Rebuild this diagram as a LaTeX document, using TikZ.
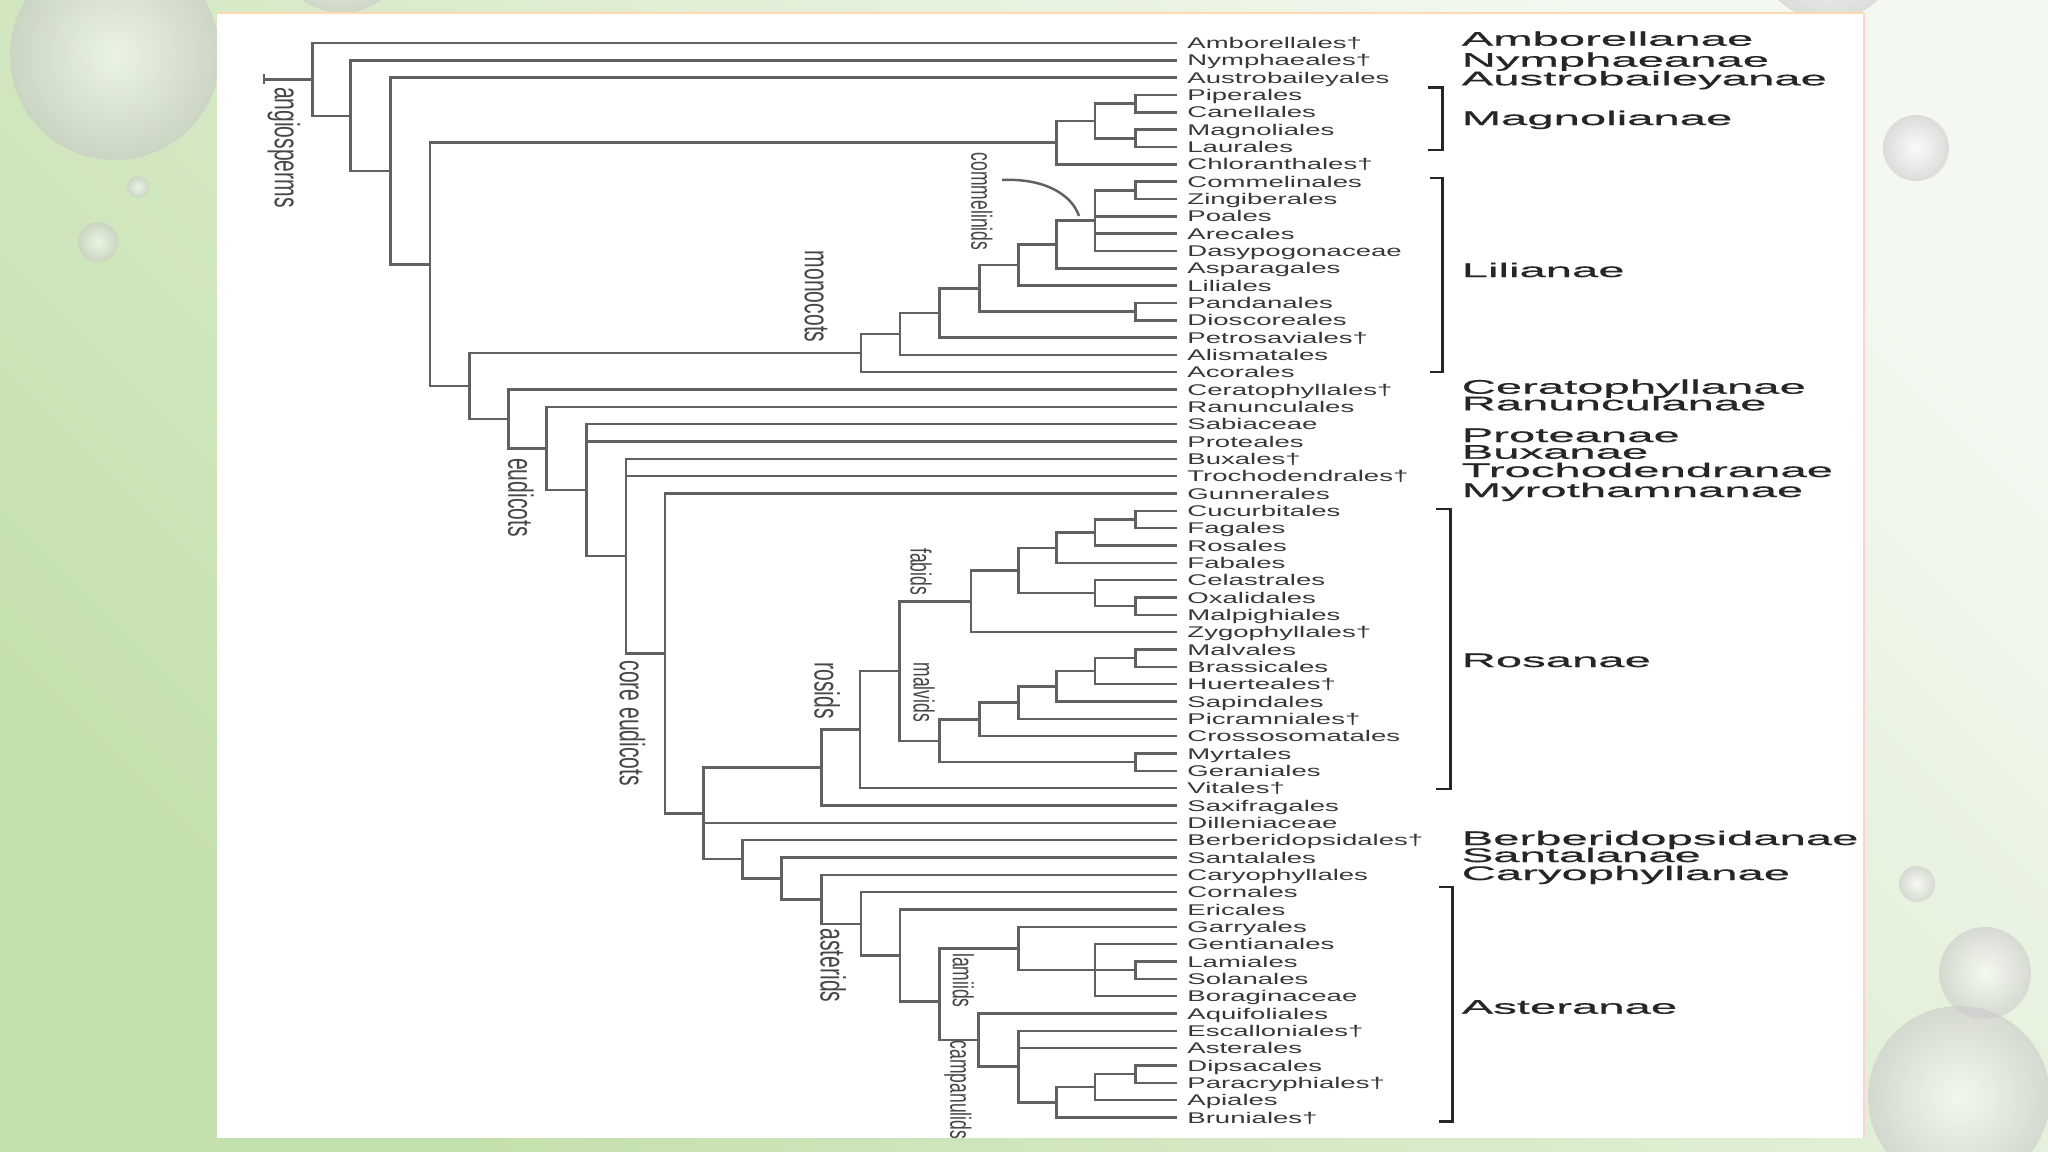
\documentclass[tikz,border=0pt]{standalone}
\usepackage{fontspec}
\setmainfont{Liberation Sans}
\newfontfamily\leaffont[FakeStretch=1.78]{Liberation Sans}
\newfontfamily\superfont[FakeStretch=2.4,FakeBold=0.6]{Liberation Sans}
\newfontfamily\cladefont[FakeStretch=0.6]{Liberation Sans}
\definecolor{bgtop}{RGB}{243,248,240}
\definecolor{bgbot}{RGB}{196,224,172}
\newcommand{\ry}[1]{43+17.33*(#1)}
\tikzset{
  br/.style       = {draw=black!62, line width=0.7pt},
  brk/.style      = {draw=black!85, line width=0.85pt},
  leaf/.style     = {anchor=west, inner xsep=1mm, inner ysep=0pt, text height=3.15pt,
                     text depth=0pt, font=\leaffont\fontsize{4.4}{5}\selectfont, text=black!78},
  superord/.style = {anchor=west, inner sep=0pt, text height=4pt, text depth=0pt,
                     font=\superfont\fontsize{5.6}{6}\selectfont, text=black!85},
  clade/.style    = {rotate=-90, inner sep=0pt, font=\cladefont\fontsize{10}{11}\selectfont,
                     text=black!72},
  subclade/.style = {clade, font=\cladefont\fontsize{8.3}{9}\selectfont},
  drop/.style     = {inner color=white, outer color=black!22, opacity=0.55},
}

\begin{document}
\begin{tikzpicture}[x=0.01cm, y=-0.01cm]
  \useasboundingbox (0,0) rectangle (2048,1152);
  \shade[top color=bgtop, bottom color=bgbot, shading angle=-45] (0,0) rectangle (2048,1152);

  \shade[drop] (115,55) circle (1.05cm);
  \shade[drop] (138,187) circle (0.11cm);
  \shade[drop] (98,242) circle (0.2cm);
  \shade[drop] (342,-52) circle (0.65cm);
  \shade[drop] (1828,-52) circle (0.72cm);
  \shade[drop] (1916,148) circle (0.33cm);
  \shade[drop] (1917,884) circle (0.18cm);
  \shade[drop] (1985,973) circle (0.46cm);
  \shade[drop] (1959,1097) circle (0.91cm);

  \fill[white] (217,13) rectangle (1864,1138);
  \draw[orange!30, line width=0.8pt] (217,13) -- (1864,13);
  \draw[red!18, line width=0.8pt] (1864,13) -- (1864,1138);

  \foreach \lab [count=\i from 0] in {Amborellales†, Nymphaeales†, Austrobaileyales,
      Piperales, Canellales, Magnoliales, Laurales, Chloranthales†, Commelinales,
      Zingiberales, Poales, Arecales, Dasypogonaceae, Asparagales, Liliales, Pandanales,
      Dioscoreales, Petrosaviales†, Alismatales, Acorales, Ceratophyllales†, Ranunculales,
      Sabiaceae, Proteales, Buxales†, Trochodendrales†, Gunnerales, Cucurbitales, Fagales,
      Rosales, Fabales, Celastrales, Oxalidales, Malpighiales, Zygophyllales†, Malvales,
      Brassicales, Huerteales†, Sapindales, Picramniales†, Crossosomatales, Myrtales,
      Geraniales, Vitales†, Saxifragales, Dilleniaceae, Berberidopsidales†, Santalales,
      Caryophyllales, Cornales, Ericales, Garryales, Gentianales, Lamiales, Solanales,
      Boraginaceae, Aquifoliales, Escalloniales†, Asterales, Dipsacales, Paracryphiales†,
      Apiales, Bruniales†}
    \node[leaf] (l\i) at (1176.7,{\ry{\i}}) {\lab};

  \coordinate (root)    at (312.3,{\ry{2.1}});
  \coordinate (n21)     at (350.7,{\ry{4.2}});
  \coordinate (n20)     at (390.7,{\ry{7.39}});
  \coordinate (n19)     at (430,{\ry{12.78}});
  \coordinate (mC)      at (1056.7,{\ry{5.75}});
  \coordinate (magn)    at (1095,{\ry{4.5}});
  \coordinate (pipcan)  at (1135.5,{\ry{3.5}});
  \coordinate (maglau)  at (1135.5,{\ry{5.5}});
  \coordinate (n18)     at (469.3,{\ry{19.8}});
  \coordinate (mono)    at (861,{\ry{17.9}});
  \coordinate (alis)    at (900,{\ry{16.79}});
  \coordinate (petr)    at (939.3,{\ry{15.58}});
  \coordinate (pand)    at (979.3,{\ry{14.16}});
  \coordinate (pandios) at (1135.5,{\ry{15.5}});
  \coordinate (lili)    at (1018.3,{\ry{12.81}});
  \coordinate (aspa)    at (1056.7,{\ry{11.625}});
  \coordinate (comm)    at (1095,{\ry{10.25}});
  \coordinate (comzin)  at (1135.5,{\ry{8.5}});
  \coordinate (n17)     at (508.3,{\ry{21.7}});
  \coordinate (eud)     at (546.7,{\ry{23.4}});
  \coordinate (n15)     at (586.7,{\ry{25.8}});
  \coordinate (n14)     at (626,{\ry{29.6}});
  \coordinate (core)    at (665,{\ry{35.23}});
  \coordinate (penta)   at (703.5,{\ry{44.46}});
  \coordinate (srosid)  at (821.7,{\ry{41.81}});
  \coordinate (rosids)  at (860,{\ry{39.62}});
  \coordinate (fabmal)  at (899.3,{\ry{36.24}});
  \coordinate (fabids)  at (971,{\ry{32.22}});
  \coordinate (fa4)     at (1018.3,{\ry{30.44}});
  \coordinate (fa3)     at (1056.7,{\ry{29.125}});
  \coordinate (fa2)     at (1095,{\ry{28.25}});
  \coordinate (fa1)     at (1135.5,{\ry{27.5}});
  \coordinate (fa2b)    at (1095,{\ry{31.75}});
  \coordinate (fa1b)    at (1135.5,{\ry{32.5}});
  \coordinate (malvids) at (939.3,{\ry{40.27}});
  \coordinate (ma5)     at (979.3,{\ry{39.03}});
  \coordinate (ma4)     at (1018.3,{\ry{38.06}});
  \coordinate (ma3)     at (1056.7,{\ry{37.125}});
  \coordinate (ma2)     at (1095,{\ry{36.25}});
  \coordinate (ma1)     at (1135.5,{\ry{35.5}});
  \coordinate (ma1b)    at (1135.5,{\ry{41.5}});
  \coordinate (sast)    at (742.7,{\ry{47.1}});
  \coordinate (sant)    at (781.7,{\ry{48.2}});
  \coordinate (caryo)   at (821.7,{\ry{49.41}});
  \coordinate (ast)     at (861,{\ry{50.83}});
  \coordinate (eric)    at (900,{\ry{52.65}});
  \coordinate (lamcamp) at (939.3,{\ry{55.3}});
  \coordinate (lam)     at (1018.3,{\ry{52.25}});
  \coordinate (gent)    at (1095,{\ry{53.5}});
  \coordinate (lamsol)  at (1135.5,{\ry{53.5}});
  \coordinate (camp)    at (978.3,{\ry{57.53}});
  \coordinate (esc)     at (1018.3,{\ry{59.06}});
  \coordinate (dip)     at (1056.7,{\ry{61.125}});
  \coordinate (apia)    at (1095,{\ry{60.25}});
  \coordinate (dipspar) at (1135.5,{\ry{59.5}});
  \coordinate (stem)    at (264,{\ry{2.1}});

  \foreach \p/\c in {root/l0.west, root/n21, n21/l1.west, n21/n20, n20/l2.west, n20/n19,
      n19/mC, n19/n18, mC/magn, mC/l7.west, magn/pipcan, magn/maglau,
      pipcan/l3.west, pipcan/l4.west, maglau/l5.west, maglau/l6.west,
      n18/mono, n18/n17, mono/alis, mono/l19.west, alis/petr, alis/l18.west,
      petr/pand, petr/l17.west, pand/lili, pand/pandios, pandios/l15.west, pandios/l16.west,
      lili/aspa, lili/l14.west, aspa/comm, aspa/l13.west, comm/comzin, comm/l10.west,
      comm/l11.west, comm/l12.west, comzin/l8.west, comzin/l9.west,
      n17/l20.west, n17/eud, eud/l21.west, eud/n15, n15/l22.west, n15/l23.west, n15/n14,
      n14/l24.west, n14/l25.west, n14/core, core/l26.west, core/penta,
      penta/srosid, penta/l45.west, penta/sast, srosid/rosids, srosid/l44.west,
      rosids/fabmal, rosids/l43.west, fabmal/fabids, fabmal/malvids,
      fabids/fa4, fabids/l34.west, fa4/fa3, fa4/fa2b, fa3/fa2, fa3/l30.west,
      fa2/fa1, fa2/l29.west, fa1/l27.west, fa1/l28.west, fa2b/l31.west, fa2b/fa1b,
      fa1b/l32.west, fa1b/l33.west, malvids/ma5, malvids/ma1b, ma5/ma4, ma5/l40.west,
      ma4/ma3, ma4/l39.west, ma3/ma2, ma3/l38.west, ma2/ma1, ma2/l37.west,
      ma1/l35.west, ma1/l36.west, ma1b/l41.west, ma1b/l42.west,
      sast/l46.west, sast/sant, sant/l47.west, sant/caryo, caryo/l48.west, caryo/ast,
      ast/l49.west, ast/eric, eric/l50.west, eric/lamcamp, lamcamp/lam, lamcamp/camp,
      lam/l51.west, lam/gent, gent/l52.west, gent/lamsol, gent/l55.west,
      lamsol/l53.west, lamsol/l54.west, camp/l56.west, camp/esc, esc/l57.west,
      esc/l58.west, esc/dip, dip/apia, dip/l62.west, apia/dipspar, apia/l61.west,
      dipspar/l59.west, dipspar/l60.west}
    \draw[br] (\p) |- (\c);
  \draw[br] (stem) -- (root);
  \draw[br] (stem) ++(0,-5) -- ++(0,10);

  \node[clade]    (angiolab) at (284,147.5)   {angiosperms};
  \node[clade]    (monolab)  at (816,296.7)   {monocots};
  \node[subclade] (commlab)  at (981.7,201.5) {commelinids};
  \node[clade]    (eudlab)   at (521,497.5)   {eudicots};
  \node[clade]    (corelab)  at (632.5,723.3) {core eudicots};
  \node[clade]    (roslab)   at (827.3,690.5) {rosids};
  \node[subclade] (fablab)   at (921,571.7)   {fabids};
  \node[subclade] (malvlab)  at (924,692.3)   {malvids};
  \node[clade]    (astlab)   at (833.3,965.5) {asterids};
  \node[subclade] (lamlab)   at (963.3,980.5) {lamiids};
  \node[subclade] (camplab)  at (958,1090)    {campanulids};
  \coordinate (arcA) at (1002,180);
  \coordinate (arcB) at (1079,216);
  \draw[br] (arcA) .. controls (1045,178) and (1072,195) .. (arcB);

  \node[superord] (amb)  at (1461,38.7)  {Amborellanae};
  \node[superord] (nym)  at (1461,59.7)  {Nymphaeanae};
  \node[superord] (aus)  at (1461,78.3)  {Austrobaileyanae};
  \node[superord] (mag)  at (1461,118)   {Magnolianae};
  \node[superord] (lil)  at (1461,270)   {Lilianae};
  \node[superord] (cer)  at (1461,386.7) {Ceratophyllanae};
  \node[superord] (ran)  at (1461,403.3) {Ranunculanae};
  \node[superord] (pro)  at (1461,435)   {Proteanae};
  \node[superord] (bux)  at (1461,451.7) {Buxanae};
  \node[superord] (tro)  at (1461,470)   {Trochodendranae};
  \node[superord] (myr)  at (1461,490)   {Myrothamnanae};
  \node[superord] (ros)  at (1461,660)   {Rosanae};
  \node[superord] (ber)  at (1461,838)   {Berberidopsidanae};
  \node[superord] (san)  at (1461,855)   {Santalanae};
  \node[superord] (car)  at (1461,873)   {Caryophyllanae};
  \node[superord] (aste) at (1461,1006.7){Asteranae};

  \draw[brk] (1428,88) -- (1442,88) -- (1442,150) -- (1428,150);
  \draw[brk] (1430,178) -- (1442,178) -- (1442,372) -- (1430,372);
  \draw[brk] (1436,509) -- (1450,509) -- (1450,789) -- (1436,789);
  \draw[brk] (1439,887) -- (1452,887) -- (1452,1121) -- (1439,1121);
\end{tikzpicture}
\end{document}
